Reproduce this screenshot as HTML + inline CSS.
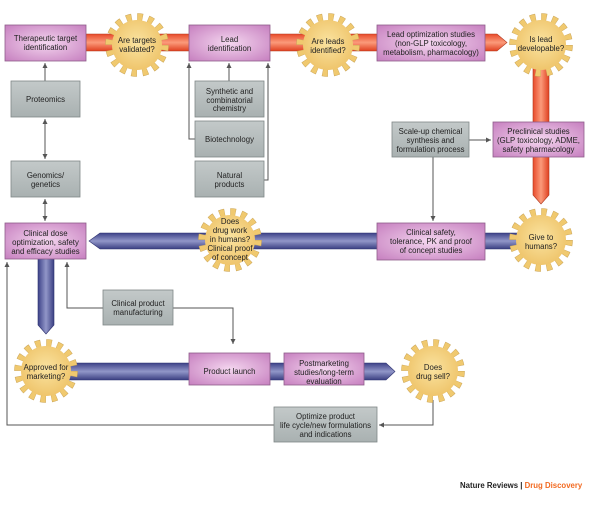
<!DOCTYPE html>
<html><head><meta charset="utf-8"><style>
html,body{margin:0;padding:0;background:#fff;}
svg{display:block;}
text{font-family:"Liberation Sans",sans-serif;font-size:7.8px;fill:#222;text-anchor:middle;}
</style></head><body>
<svg width="600" height="509" viewBox="0 0 600 509" xmlns="http://www.w3.org/2000/svg">
<defs>
<radialGradient id="pk" cx="50%" cy="50%" r="70%"><stop offset="0" stop-color="#f4d6ef"/><stop offset="1" stop-color="#c67fbf"/></radialGradient>
<linearGradient id="gy" x1="0" y1="0" x2="0" y2="1"><stop offset="0" stop-color="#c3c9c9"/><stop offset="1" stop-color="#a9b1b1"/></linearGradient>
<linearGradient id="rdH" x1="0" y1="0" x2="0" y2="1"><stop offset="0" stop-color="#e84a2a"/><stop offset="0.5" stop-color="#fb9a7a"/><stop offset="1" stop-color="#e04020"/></linearGradient>
<linearGradient id="rdV" x1="0" y1="0" x2="1" y2="0"><stop offset="0" stop-color="#e84a2a"/><stop offset="0.5" stop-color="#fb9a7a"/><stop offset="1" stop-color="#e04020"/></linearGradient>
<linearGradient id="blH" x1="0" y1="0" x2="0" y2="1"><stop offset="0" stop-color="#3d4288"/><stop offset="0.5" stop-color="#9196c8"/><stop offset="1" stop-color="#3a3f82"/></linearGradient>
<linearGradient id="blV" x1="0" y1="0" x2="1" y2="0"><stop offset="0" stop-color="#3d4288"/><stop offset="0.5" stop-color="#9196c8"/><stop offset="1" stop-color="#3a3f82"/></linearGradient>
<radialGradient id="gr" cx="50%" cy="45%" r="55%"><stop offset="0" stop-color="#fae3a0"/><stop offset="1" stop-color="#efc56c"/></radialGradient>
<marker id="ah" markerWidth="6" markerHeight="6" refX="5" refY="3" orient="auto" markerUnits="userSpaceOnUse"><path d="M0,0.5 L5,3 L0,5.5z" fill="#555"/></marker>
<marker id="as" markerWidth="6" markerHeight="6" refX="1" refY="3" orient="auto" markerUnits="userSpaceOnUse"><path d="M6,0.5 L1,3 L6,5.5z" fill="#555"/></marker>
<g id="gear"><circle r="27.5" fill="none" stroke="#c9a458" stroke-width="8.6" stroke-dasharray="5.4 5.4"/><circle r="27.5" fill="none" stroke="#f0c96f" stroke-width="7.6" stroke-dasharray="4.6 6.2" stroke-dashoffset="-0.4"/><circle r="25" fill="url(#gr)"/></g>
</defs>

<path d="M86,34 H497 L507,42.5 L497,51 H86z" fill="url(#rdH)" stroke="#b03a20" stroke-width="0.6"/>
<path d="M533,60 H549 V195 L541,204 L533,195z" fill="url(#rdV)" stroke="#b03a20" stroke-width="0.6"/>
<path d="M525,233 H100 L89,241 L100,249 H525z" fill="url(#blH)" stroke="#2e3270" stroke-width="0.6"/>
<path d="M38,255 H54 V325 L46,334 L38,325z" fill="url(#blV)" stroke="#2e3270" stroke-width="0.6"/>
<path d="M60,363 H386 L395,371.5 L386,380 H60z" fill="url(#blH)" stroke="#2e3270" stroke-width="0.6"/>

<g stroke="#555" stroke-width="1" fill="none">
<line x1="45" y1="81" x2="45" y2="63" marker-end="url(#ah)"/>
<line x1="45" y1="119" x2="45" y2="159" marker-end="url(#ah)" marker-start="url(#as)"/>
<line x1="45" y1="199" x2="45" y2="221" marker-end="url(#ah)" marker-start="url(#as)"/>
<line x1="229" y1="81" x2="229" y2="63" marker-end="url(#ah)"/>
<polyline points="195,139 189,139 189,63" marker-end="url(#ah)"/>
<polyline points="264,180 268,180 268,63" marker-end="url(#ah)"/>
<line x1="469" y1="140" x2="491" y2="140" marker-end="url(#ah)"/>
<line x1="433" y1="157" x2="433" y2="221" marker-end="url(#ah)"/>
<polyline points="274,425 7,425 7,262" marker-end="url(#ah)"/>
<polyline points="103,308 67,308 67,262" marker-end="url(#ah)"/>
<polyline points="173,308 233,308 233,344" marker-end="url(#ah)"/>
<polyline points="433,400 433,425 379,425" marker-end="url(#ah)"/>
</g>

<g fill="url(#pk)" stroke="#8e5d8a" stroke-width="0.8">
<rect x="5" y="25" width="81" height="36"/>
<rect x="189" y="25" width="81" height="36"/>
<rect x="377" y="25" width="108" height="36"/>
<rect x="493" y="122" width="91" height="35"/>
<rect x="377" y="223" width="108" height="37"/>
<rect x="5" y="223" width="81" height="36"/>
<rect x="189" y="353" width="81" height="32"/>
<rect x="284" y="353" width="80" height="32"/>
</g>
<g fill="url(#gy)" stroke="#7f8787" stroke-width="0.8">
<rect x="11" y="81" width="69" height="36"/>
<rect x="11" y="161" width="69" height="36"/>
<rect x="195" y="81" width="69" height="36"/>
<rect x="195" y="121" width="69" height="36"/>
<rect x="195" y="161" width="69" height="36"/>
<rect x="392" y="122" width="77" height="35"/>
<rect x="103" y="290" width="70" height="35"/>
<rect x="274" y="407" width="103" height="35"/>
</g>

<use href="#gear" x="137" y="45"/>
<use href="#gear" x="328" y="45"/>
<use href="#gear" x="541" y="45"/>
<use href="#gear" x="541" y="240"/>
<use href="#gear" x="230" y="240"/>
<use href="#gear" x="46" y="371"/>
<use href="#gear" x="433" y="371"/>

<text x="45.5" y="41">Therapeutic target</text><text x="45.5" y="50">identification</text>
<text x="137" y="43">Are targets</text><text x="137" y="52">validated?</text>
<text x="229.5" y="42">Lead</text><text x="229.5" y="51">identification</text>
<text x="328" y="44">Are leads</text><text x="328" y="53">identified?</text>
<text x="431" y="37">Lead optimization studies</text><text x="431" y="46">(non-GLP toxicology,</text><text x="431" y="55">metabolism, pharmacology)</text>
<text x="541" y="42">Is lead</text><text x="541" y="51">developable?</text>
<text x="45.5" y="102">Proteomics</text>
<text x="45.5" y="178">Genomics/</text><text x="45.5" y="187">genetics</text>
<text x="229.5" y="94">Synthetic and</text><text x="229.5" y="103">combinatorial</text><text x="229.5" y="111">chemistry</text>
<text x="229.5" y="142">Biotechnology</text>
<text x="229.5" y="178">Natural</text><text x="229.5" y="187">products</text>
<text x="430.5" y="134">Scale-up chemical</text><text x="430.5" y="143">synthesis and</text><text x="430.5" y="152">formulation process</text>
<text x="538.5" y="134">Preclinical studies</text><text x="538.5" y="143">(GLP toxicology, ADME,</text><text x="538.5" y="152">safety pharmacology</text>
<text x="431" y="235">Clinical safety,</text><text x="431" y="244">tolerance, PK and proof</text><text x="431" y="253">of concept studies</text>
<text x="541" y="240">Give to</text><text x="541" y="249">humans?</text>
<text x="230" y="224">Does</text><text x="230" y="233">drug work</text><text x="230" y="242">in humans?</text><text x="230" y="251">Clinical proof</text><text x="230" y="260">of concept</text>
<text x="45.5" y="236">Clinical dose</text><text x="45.5" y="245">optimization, safety</text><text x="45.5" y="254">and efficacy studies</text>
<text x="138" y="306">Clinical product</text><text x="138" y="315">manufacturing</text>
<text x="46" y="370">Approved for</text><text x="46" y="379">marketing?</text>
<text x="229.5" y="374">Product launch</text>
<text x="324" y="366">Postmarketing</text><text x="324" y="375">studies/long-term</text><text x="324" y="384">evaluation</text>
<text x="433" y="370">Does</text><text x="433" y="379">drug sell?</text>
<text x="325.5" y="419">Optimize product</text><text x="325.5" y="428">life cycle/new formulations</text><text x="325.5" y="437">and indications</text>
<text x="460" y="488" style="text-anchor:start;font-weight:bold;font-size:7.8px">Nature Reviews <tspan>|</tspan> <tspan style="fill:#f26a21">Drug Discovery</tspan></text>
</svg>
</body></html>
